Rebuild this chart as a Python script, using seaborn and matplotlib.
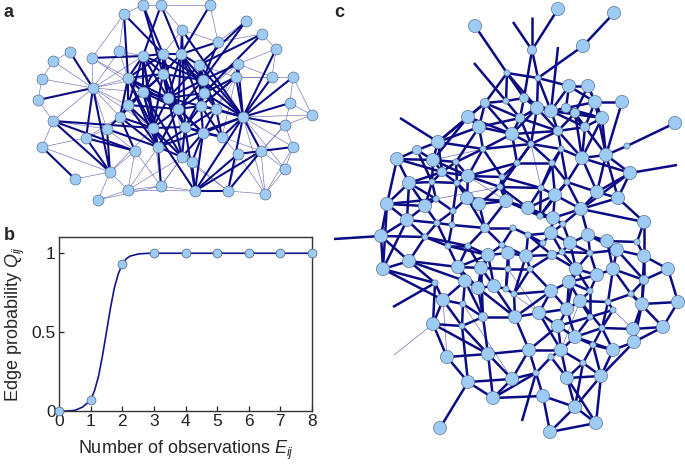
import numpy as np
import pandas as pd
import matplotlib
matplotlib.use("Agg")
import matplotlib.pyplot as plt
from matplotlib.collections import LineCollection
import seaborn as sns

# ---------------- panel b data ----------------
obs_counts = [0, 1, 2, 3, 4, 5, 6, 7, 8]
edge_prob = [0.0, 0.07, 0.93, 1.0, 1.0, 1.0, 1.0, 1.0, 1.0]
curve_x = [0, 0.25, 0.5, 0.75, 1.0, 1.125, 1.25, 1.375, 1.5, 1.625, 1.75, 1.875,
           2.0, 2.125, 2.25, 2.5, 2.75, 3.0, 4.0, 5.0, 6.0, 7.0, 8.0]
curve_y = [0, 0.0, 0.004, 0.025, 0.07, 0.13, 0.22, 0.35, 0.5, 0.65, 0.78, 0.87,
           0.93, 0.965, 0.982, 0.995, 0.999, 1.0, 1.0, 1.0, 1.0, 1.0, 1.0]
x_ticks = [0, 1, 2, 3, 4, 5, 6, 7, 8]
y_ticks = [0, 0.5, 1]
y_tick_labels = ["0", "0.5", "1"]

# ---------------- panel a network (layout positions, px) ----------------
a_node_x = [124, 143, 161, 210, 246, 182, 262, 218, 276, 70, 119, 92, 143, 163, 181, 53,
            199, 238, 163, 128, 203, 236, 272, 293, 42, 93, 143, 204, 38, 168, 128, 201,
            216, 178, 290, 312, 120, 243, 53, 285, 153, 185, 107, 203, 222, 86, 42, 158,
            135, 261, 293, 238, 182, 192, 110, 285, 75, 128, 161, 195, 228, 265, 98]
a_node_y = [14, 5, 5, 5, 21, 30, 34, 42, 49, 52, 51, 58, 56, 54, 54, 61,
            65, 64, 74, 78, 80, 77, 77, 77, 79, 88, 92, 93, 100, 98, 105, 106,
            109, 109, 103, 115, 117, 117, 121, 125, 128, 127, 129, 133, 137, 138, 147, 147,
            151, 151, 147, 154, 157, 162, 172, 169, 179, 190, 186, 191, 191, 194, 200]
a_strong_src = [0, 1, 2, 2, 3, 4, 4, 5, 5, 5, 6, 6, 7, 7, 8, 9, 11, 28, 25, 25, 38, 38, 38,
                46, 42, 42, 45, 45,
                12, 12, 12, 12, 12, 13, 13, 13, 14, 14, 14, 14, 16, 16, 18, 18, 18, 18, 18,
                19, 19, 19, 20, 20, 20, 26, 26, 26, 26, 27, 27, 27, 29, 29, 29, 30, 30, 30,
                31, 31, 31, 32, 32, 33, 33, 36, 36, 40, 40, 41, 41, 43, 43, 43, 44, 47, 47,
                47, 52, 53, 41, 37, 37, 37, 37, 37, 37, 37, 37, 37, 59, 59, 59, 59, 60, 50,
                49, 17, 21, 21,
                12, 12, 12, 13, 13, 13, 14, 14, 16, 16, 18, 18, 18, 19, 19, 20, 20, 26, 26,
                27, 27, 29, 29, 30, 31, 31, 32, 33, 36, 40, 41, 19, 13, 14, 16, 32, 27, 20,
                31, 43, 26, 29, 19, 17, 21, 16, 0, 1, 12, 36, 40]
a_strong_dst = [13, 13, 12, 14, 14, 16, 20, 14, 37, 41, 16, 27, 14, 20, 37, 25, 12, 25, 54, 45, 54, 48, 40,
                56, 54, 47, 48, 54,
                13, 19, 26, 18, 47, 14, 18, 29, 16, 18, 20, 27, 20, 27, 19, 26, 29, 33, 20,
                26, 30, 36, 27, 31, 29, 29, 30, 40, 33, 31, 32, 29, 33, 31, 41, 36, 40, 47,
                32, 43, 33, 37, 44, 41, 40, 42, 40, 47, 41, 43, 52, 44, 52, 53, 37, 52, 58,
                33, 53, 59, 59, 22, 23, 34, 39, 49, 60, 59, 47, 17, 51, 60, 49, 43, 49, 49,
                51, 21, 27, 37,
                20, 29, 40, 20, 26, 33, 29, 31, 31, 32, 30, 40, 41, 40, 47, 32, 33, 36, 47,
                33, 41, 40, 43, 33, 41, 44, 43, 43, 47, 52, 44, 29, 19, 33, 29, 47, 37, 37,
                37, 37, 52, 52, 33, 20, 31, 37, 19, 18, 30, 48, 59]
a_weak_src = [0, 0, 10, 11, 15, 24, 25, 25, 25, 25, 25, 25, 25, 38, 38, 46, 46, 45, 54, 54, 54,
              56, 48, 48, 57, 58, 58, 62, 59, 60, 61, 55, 50, 35, 35, 35, 35, 37, 37, 37, 39,
              34, 22, 21, 8, 6, 6, 3, 3, 1, 10, 11, 15, 28, 28, 24, 44, 51, 51, 53, 52, 40,
              36, 42, 30, 5, 4, 16, 17, 32, 33, 12, 40, 47, 2, 1, 13,
              25, 25, 11, 10, 19, 22, 23, 8, 17, 21, 39, 34, 44, 49, 51, 55, 61, 60, 57, 62]
a_weak_dst = [10, 11, 25, 25, 25, 25, 19, 26, 30, 36, 12, 42, 38, 42, 46, 45, 54, 42, 62, 57, 48,
              54, 57, 58, 58, 59, 52, 57, 57, 61, 49, 49, 55, 34, 23, 37, 39, 50, 55, 61, 50,
              23, 17, 23, 22, 7, 8, 7, 2, 0, 19, 19, 9, 24, 38, 15, 51, 61, 60, 60, 58, 58,
              45, 48, 42, 7, 7, 21, 27, 21, 52, 11, 54, 57, 5, 2, 5,
              18, 40, 26, 12, 12, 21, 37, 17, 32, 44, 49, 39, 49, 39, 50, 61, 50, 52, 52, 58]

# ---------------- panel c network (layout positions, px; size class) ----------------
c_node_x = [558, 614, 475, 532, 583, 507, 538, 569, 588, 485, 524, 506, 537, 551, 566, 575,
            595, 622, 468, 479, 520, 602, 585, 558, 512, 675, 438, 417, 397, 433, 456, 483,
            531, 561, 517, 552, 582, 606, 627, 442, 468, 502, 630, 677, 409, 432, 457, 500,
            541, 567, 597, 555, 618, 387, 425, 467, 479, 506, 528, 581, 436, 453, 540, 553,
            407, 644, 437, 452, 485, 563, 400, 474, 513, 532, 558,
            381, 334, 425, 448, 468, 502, 513, 528, 551, 570, 588, 607, 637, 383, 409, 488,
            508, 526, 543, 552, 562, 590, 617, 644, 668, 458, 481, 508, 530, 576, 597, 613,
            644, 465, 478, 494, 506, 514, 551, 569, 590, 435, 393, 443, 463, 483, 515, 539,
            567, 580, 590, 608, 613, 631, 642, 678, 433, 462, 558, 575, 602, 633, 663, 634,
            613, 593, 394, 447, 488, 529, 561, 551, 583, 536, 512, 567, 601, 468, 493, 543,
            575, 522, 596, 550, 440]
c_node_y = [9, 13, 26, 50, 46, 73, 78, 86, 86, 103, 98, 101, 108, 111, 108, 113,
            102, 102, 117, 127, 118, 118, 127, 131, 134, 123, 142, 150, 159, 160, 162, 149,
            144, 149, 163, 163, 158, 155, 146, 172, 176, 177, 173, 165, 183, 182, 183, 187,
            188, 182, 192, 195, 198, 204, 206, 198, 204, 201, 208, 209, 199, 211, 216, 218,
            220, 222, 223, 225, 228, 224, 118, 63, 22, 17, 47,
            236, 239, 237, 246, 246, 245, 228, 235, 233, 243, 235, 241, 242, 269, 261, 255,
            253, 256, 243, 255, 252, 253, 250, 256, 269, 267, 268, 269, 269, 269, 275, 269,
            280, 281, 288, 286, 289, 294, 291, 282, 291, 283, 307, 300, 304, 317, 317, 313,
            309, 301, 317, 302, 310, 294, 304, 302, 324, 326, 326, 337, 328, 329, 327, 342,
            350, 345, 355, 357, 354, 350, 350, 357, 363, 373, 379, 378, 376, 382, 398, 396,
            407, 421, 423, 432, 428]
c_node_cls = [2, 2, 2, 1, 2, 0, 0, 2, 2, 1, 1, 0, 2, 2, 1, 1,
              2, 2, 2, 2, 1, 2, 1, 1, 2, 2, 2, 1, 2, 2, 0, 0,
              0, 0, 0, 0, 2, 2, 0, 1, 2, 0, 2, -1, 2, 0, 0, 0,
              0, 0, 2, 2, 2, 2, 2, 2, 2, 2, 2, 2, 0, 0, 0, 2,
              2, 2, 0, 0, 1, 0, -1, -1, -1, -1, -1,
              2, -1, 0, 0, 0, 0, 0, 0, 2, 2, 2, 2, 0, 2, 2, 2,
              2, 2, 0, 1, 0, 0, 2, 2, 2, 2, 2, 0, 0, 2, 2, 2,
              1, 2, 2, 2, 0, 0, 2, 2, 0, 0, -1, 2, 0, 1, 2, 2,
              2, 2, 0, 0, 0, 0, 2, 2, 2, 0, 2, 2, 0, 2, 2, 2,
              2, 0, -1, 2, 2, 2, 2, 0, 0, 0, 2, 2, 2, 2, 2, 2,
              2, -1, 2, 2, 2]
c_edges = [
    (0, 3), (1, 4), (4, 6), (2, 5), (73, 3), (72, 3), (3, 6), (3, 10), (74, 13), (71, 11),
    (5, 9), (5, 11), (5, 10), (5, 12), (5, 6), (6, 12), (6, 7), (6, 13), (7, 8), (7, 14),
    (7, 16), (8, 16), (8, 15), (8, 21), (7, 13), (9, 19), (9, 11), (9, 24), (10, 12), (10, 20),
    (10, 11), (12, 13), (12, 20), (12, 23), (12, 32), (13, 14), (13, 15), (13, 23), (13, 22),
    (14, 15), (14, 16), (15, 22), (15, 21), (15, 36), (16, 17), (16, 21), (16, 22), (17, 37),
    (18, 19), (18, 24), (18, 26), (19, 24), (19, 31), (19, 26), (19, 30), (20, 24), (20, 32),
    (21, 22), (21, 36), (22, 23), (22, 36), (23, 24), (23, 33), (23, 32), (24, 31), (24, 34),
    (24, 32), (25, 38), (38, 37), (70, 26), (26, 27), (26, 29), (26, 31), (27, 28), (27, 29),
    (27, 45), (28, 29), (28, 44), (28, 39), (29, 30), (29, 39), (29, 45), (30, 31), (30, 40),
    (30, 39), (31, 32), (31, 41), (32, 33), (32, 34), (33, 35), (33, 36), (33, 49), (34, 35),
    (34, 41), (34, 47), (35, 48), (35, 49), (35, 51), (36, 37), (36, 49), (36, 50), (37, 42),
    (37, 50), (42, 43), (42, 50), (42, 52), (42, 59), (39, 40), (39, 44), (39, 46), (40, 41),
    (40, 46), (40, 55), (40, 47), (41, 47), (41, 57), (44, 45), (44, 53), (44, 54), (44, 64),
    (45, 46), (45, 60), (45, 54), (46, 55), (46, 61), (47, 57), (47, 58), (47, 48), (48, 51),
    (48, 58), (48, 62), (49, 51), (49, 50), (49, 59), (50, 52), (50, 59), (51, 59), (51, 63),
    (51, 62), (52, 65), (52, 59), (53, 54), (53, 64), (53, 75), (54, 60), (54, 64), (54, 66),
    (55, 56), (55, 61), (55, 68), (56, 57), (56, 68), (57, 58), (57, 68), (58, 62), (58, 63),
    (59, 63), (59, 69), (60, 61), (61, 67), (62, 63), (63, 69), (64, 66), (64, 75), (65, 87),
    (65, 98), (66, 67), (67, 68),
    (76, 75), (75, 88), (75, 89), (75, 77), (77, 78), (77, 89), (77, 66), (78, 79), (78, 100),
    (78, 67), (79, 90), (79, 100), (79, 68), (80, 81), (80, 91), (80, 90), (81, 82), (81, 68),
    (82, 83), (82, 92), (82, 93), (83, 84), (83, 93), (83, 69), (83, 63), (84, 85), (84, 95),
    (84, 96), (85, 86), (85, 96), (85, 59), (86, 87), (86, 97), (87, 98), (88, 89), (88, 116),
    (89, 116), (89, 100), (90, 91), (90, 101), (90, 100), (91, 92), (91, 102), (92, 93),
    (92, 103), (92, 94), (94, 95), (94, 104), (94, 103), (95, 96), (96, 97), (96, 104),
    (96, 105), (97, 98), (97, 106), (98, 99), (98, 107), (99, 130), (99, 107), (100, 101),
    (100, 108), (101, 102), (101, 109), (101, 110), (102, 103), (102, 111), (103, 112),
    (103, 113), (104, 105), (104, 114), (105, 106), (105, 115), (106, 107), (106, 126),
    (107, 128), (107, 129), (108, 109), (108, 118), (108, 119), (109, 110), (109, 120),
    (110, 111), (110, 121), (111, 112), (112, 121), (112, 113), (113, 114), (113, 122),
    (114, 115), (114, 123), (114, 124), (115, 124), (115, 125), (116, 117), (116, 118),
    (118, 119), (118, 131), (119, 120), (119, 132), (120, 121), (120, 143), (121, 122),
    (121, 144), (122, 123), (122, 133), (123, 124), (123, 133), (124, 126), (125, 127),
    (125, 134), (126, 127), (126, 128), (127, 135), (128, 129), (129, 130), (129, 136),
    (129, 138), (130, 137), (131, 132), (131, 142), (132, 143), (132, 152), (133, 134),
    (133, 144), (134, 135), (134, 140), (134, 145), (135, 136), (135, 139), (136, 137),
    (136, 138), (137, 138), (138, 139), (139, 140), (139, 151), (140, 147), (142, 152),
    (142, 143), (143, 144), (143, 153), (144, 145), (144, 148), (145, 146), (145, 147),
    (146, 148), (146, 150), (147, 150), (147, 151), (148, 149), (148, 154), (149, 152),
    (149, 153), (150, 151), (150, 155), (151, 155), (152, 159), (153, 154), (156, 148),
    (154, 158), (155, 157), (155, 158), (157, 158), (157, 150),
    (53, 88), (28, 53), (64, 88), (90, 110), (113, 121), (124, 135), (104, 123),
    (9, 20), (9, 26), (18, 29), (11, 20), (12, 24), (13, 21), (14, 21), (15, 23), (16, 37),
    (21, 37), (23, 36), (26, 39), (29, 40), (31, 40), (32, 47), (33, 48), (34, 40), (36, 42),
    (37, 52), (39, 45), (41, 48), (44, 60), (46, 56), (47, 56), (49, 62), (51, 58), (53, 60),
    (55, 57), (57, 62), (58, 69), (59, 65), (61, 66), (63, 83), (64, 77), (66, 78), (68, 80),
    (69, 84), (77, 79), (78, 90), (79, 101), (80, 92), (82, 94), (83, 95), (84, 104),
    (85, 97), (86, 106), (88, 118), (89, 108), (90, 109), (91, 111), (92, 112), (95, 104),
    (97, 107), (98, 129), (100, 109), (101, 120), (104, 115), (105, 114), (106, 128),
    (108, 120), (109, 121), (113, 123), (116, 131), (118, 132), (120, 132), (122, 145),
    (123, 134), (124, 125), (125, 133), (126, 135), (128, 137), (131, 143), (133, 145),
    (134, 139), (135, 140), (138, 151), (140, 151), (143, 149), (144, 149), (145, 150),
    (147, 155), (148, 153), (151, 157), (152, 153), (154, 155),
    (19, 20), (18, 9), (10, 13), (14, 22), (20, 23), (22, 37), (32, 35), (30, 46),
]
c_weak_edges = [(131, 141), (119, 149), (102, 122), (111, 133), (60, 47), (32, 48),
                (124, 145), (136, 127), (118, 142), (29, 31), (40, 57)]

# ---------------- styling ----------------
sns.set_theme(style="ticks")
plt.rcParams["font.family"] = ["Liberation Sans", "DejaVu Sans"]
plt.rcParams["mathtext.fontset"] = "custom"
plt.rcParams["mathtext.rm"] = "Liberation Sans"
plt.rcParams["mathtext.it"] = "Liberation Sans:italic"

NODE_FILL = "#9ecbf3"
NODE_EDGE = "#5b7394"
LINK = "#0b0b85"
LINK_WEAK = "#6f6fb8"

fig = plt.figure(figsize=(6.85, 4.70), dpi=100)

# network canvas in pixel coordinates
ax_net = fig.add_axes([0, 0, 1, 1])
ax_net.set_xlim(0, 685)
ax_net.set_ylim(470, 0)
ax_net.axis("off")

# panel a edges
ax_ = np.array(a_node_x, float)
ay_ = np.array(a_node_y, float)
weak_seg = [[(ax_[s], ay_[s]), (ax_[d_], ay_[d_])] for s, d_ in zip(a_weak_src, a_weak_dst)]
strong_seg = [[(ax_[s], ay_[s]), (ax_[d_], ay_[d_])] for s, d_ in zip(a_strong_src, a_strong_dst)]
ax_net.add_collection(LineCollection(weak_seg, colors=LINK_WEAK, linewidths=0.45, zorder=1))
ax_net.add_collection(LineCollection(strong_seg, colors=LINK, linewidths=1.5, zorder=2))

# panel c edges
cx = np.array(c_node_x, float)
cy = np.array(c_node_y, float)
c_seg = [[(cx[s], cy[s]), (cx[d_], cy[d_])] for s, d_ in c_edges]
c_wseg = [[(cx[s], cy[s]), (cx[d_], cy[d_])] for s, d_ in c_weak_edges]
ax_net.add_collection(LineCollection(c_wseg, colors=LINK_WEAK, linewidths=0.5, zorder=1))
ax_net.add_collection(LineCollection(c_seg, colors=LINK, linewidths=1.8, zorder=2))

# nodes
df_a = pd.DataFrame({"x": a_node_x, "y": a_node_y})
sns.scatterplot(data=df_a, x="x", y="y", ax=ax_net, s=62, color=NODE_FILL,
                edgecolor=NODE_EDGE, linewidth=0.5, zorder=3, legend=False)
df_c = pd.DataFrame({"x": c_node_x, "y": c_node_y, "cls": c_node_cls})
df_c = df_c[df_c["cls"] >= 0]
size_map = {0: 20, 1: 45, 2: 90}
sns.scatterplot(data=df_c, x="x", y="y", ax=ax_net, size="cls", sizes=size_map,
                color=NODE_FILL, edgecolor=NODE_EDGE, linewidth=0.5, zorder=3, legend=False)
ax_net.set_xlim(0, 685)
ax_net.set_ylim(470, 0)
ax_net.axis("off")

# panel labels
for lbl, (px, py) in zip(["a", "b", "c"], [(4, 17), (4, 240), (334, 17)]):
    ax_net.text(px, py, lbl, fontsize=13, fontweight="bold", ha="left", va="baseline",
                family=["Liberation Sans", "DejaVu Sans"])

# ---------------- panel b ----------------
axb = fig.add_axes([59 / 685, (470 - 411) / 470, (312 - 59) / 685, (411 - 237) / 470])
axb.set_facecolor("none")
sns.lineplot(x=curve_x, y=curve_y, ax=axb, color="#14148c", linewidth=1.2, zorder=2)
sns.scatterplot(x=obs_counts, y=edge_prob, ax=axb, s=40, color=NODE_FILL,
                edgecolor=NODE_EDGE, linewidth=0.6, zorder=3, clip_on=False, legend=False)
axb.set_xlim(0, 8)
axb.set_ylim(0, 1.103)
axb.set_xticks(x_ticks)
axb.set_yticks(y_ticks)
axb.set_yticklabels(y_tick_labels)
axb.tick_params(direction="in", length=3.5, width=0.9, labelsize=12.5, colors="#222222",
                pad=2.5)
for sp in axb.spines.values():
    sp.set_visible(True)
    sp.set_color("#333333")
    sp.set_linewidth(1.0)
axb.set_xlabel("Number of observations $E_{ij}$", fontsize=13, labelpad=7)
axb.set_ylabel("Edge probability $Q_{ij}$", fontsize=13, labelpad=3)

fig.savefig("out.png", dpi=100)
